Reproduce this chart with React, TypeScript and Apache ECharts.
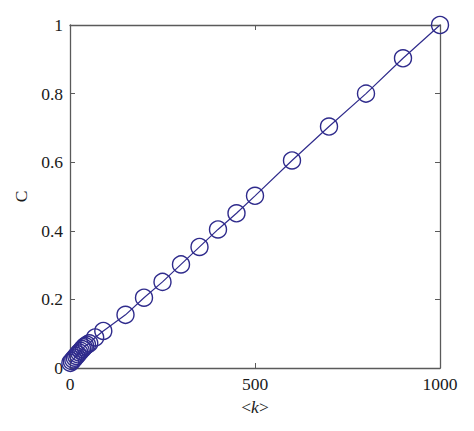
import React, { useEffect, useRef } from "react";
import * as echarts from "echarts";

const kValues = [1, 5, 9, 13, 17, 21, 25, 29, 33, 37, 41, 46, 52, 68, 90, 150, 200, 250, 300, 350, 400, 450, 500, 600, 700, 800, 900, 1000];
const cValues = [0.015, 0.02, 0.025, 0.03, 0.035, 0.04, 0.045, 0.05, 0.055, 0.06, 0.064, 0.068, 0.072, 0.089, 0.108, 0.155, 0.205, 0.251, 0.302, 0.353, 0.404, 0.451, 0.502, 0.605, 0.704, 0.8, 0.903, 1.0];
const xTicks = [0, 500, 1000];
const yTicks = [0, 0.2, 0.4, 0.6, 0.8, 1];

const NAVY = "#2f2b8c";
const AXIS = "#5a5a5a";
const FONT = "Liberation Serif";
const FS = 17.5;

export default function App() {
  const ref = useRef<HTMLDivElement>(null);
  useEffect(() => {
    if (!ref.current) return;
    const chart = echarts.init(ref.current, undefined, { renderer: "svg" });
    const data = kValues.map((k, i) => [k, cValues[i]]);
    const axisCommon = {
      axisLine: { show: true, onZero: false, lineStyle: { color: AXIS, width: 1.3 } },
      axisTick: { show: true, inside: true, length: 5, lineStyle: { color: AXIS, width: 1 } },
      splitLine: { show: false },
    };
    chart.setOption({
      animation: false,
      backgroundColor: "#ffffff",
      grid: { left: 70, right: 34, top: 25, bottom: 63, containLabel: false },
      xAxis: [
        {
          type: "value",
          min: 0,
          max: 1000,
          interval: 500,
          position: "bottom",
          ...axisCommon,
          axisLabel: {
            color: "#1a1a1a",
            fontFamily: FONT,
            fontSize: FS,
            margin: 7,
            formatter: (v: number) => (xTicks.includes(v) ? String(v) : ""),
          },
          name: "{a|<}{b|k}{a|>}",
          nameLocation: "middle",
          nameGap: 30,
          nameTextStyle: {
            rich: {
              a: { fontFamily: FONT, fontSize: FS, color: "#1a1a1a" },
              b: { fontFamily: FONT, fontSize: FS, fontStyle: "italic", color: "#1a1a1a" },
            },
          },
        },
        {
          type: "value",
          min: 0,
          max: 1000,
          interval: 500,
          position: "top",
          ...axisCommon,
          axisLabel: { show: false },
        },
      ],
      yAxis: [
        {
          type: "value",
          min: 0,
          max: 1,
          interval: 0.2,
          position: "left",
          ...axisCommon,
          axisLabel: {
            color: "#1a1a1a",
            fontFamily: FONT,
            fontSize: FS,
            margin: 7,
            formatter: (v: number) => {
              const r = Math.round(v * 10) / 10;
              return yTicks.includes(r) ? String(r) : "";
            },
          },
          name: "C",
          nameLocation: "middle",
          nameGap: 36,
          nameRotate: 90,
          nameTextStyle: { fontFamily: FONT, fontSize: FS, color: "#1a1a1a" },
        },
        {
          type: "value",
          min: 0,
          max: 1,
          interval: 0.2,
          position: "right",
          ...axisCommon,
          axisLabel: { show: false },
        },
      ],
      series: [
        {
          type: "line",
          data,
          xAxisIndex: 0,
          yAxisIndex: 0,
          clip: false,
          symbol: "circle",
          symbolSize: 17,
          showAllSymbol: true,
          lineStyle: { color: NAVY, width: 1.2 },
          itemStyle: { color: "rgba(0,0,0,0)", borderColor: NAVY, borderWidth: 1.4 },
          z: 5,
        },
      ],
    });
    return () => chart.dispose();
  }, []);
  return <div ref={ref} style={{ width: 474, height: 431, position: "absolute", left: 0, top: 0 }} />;
}
